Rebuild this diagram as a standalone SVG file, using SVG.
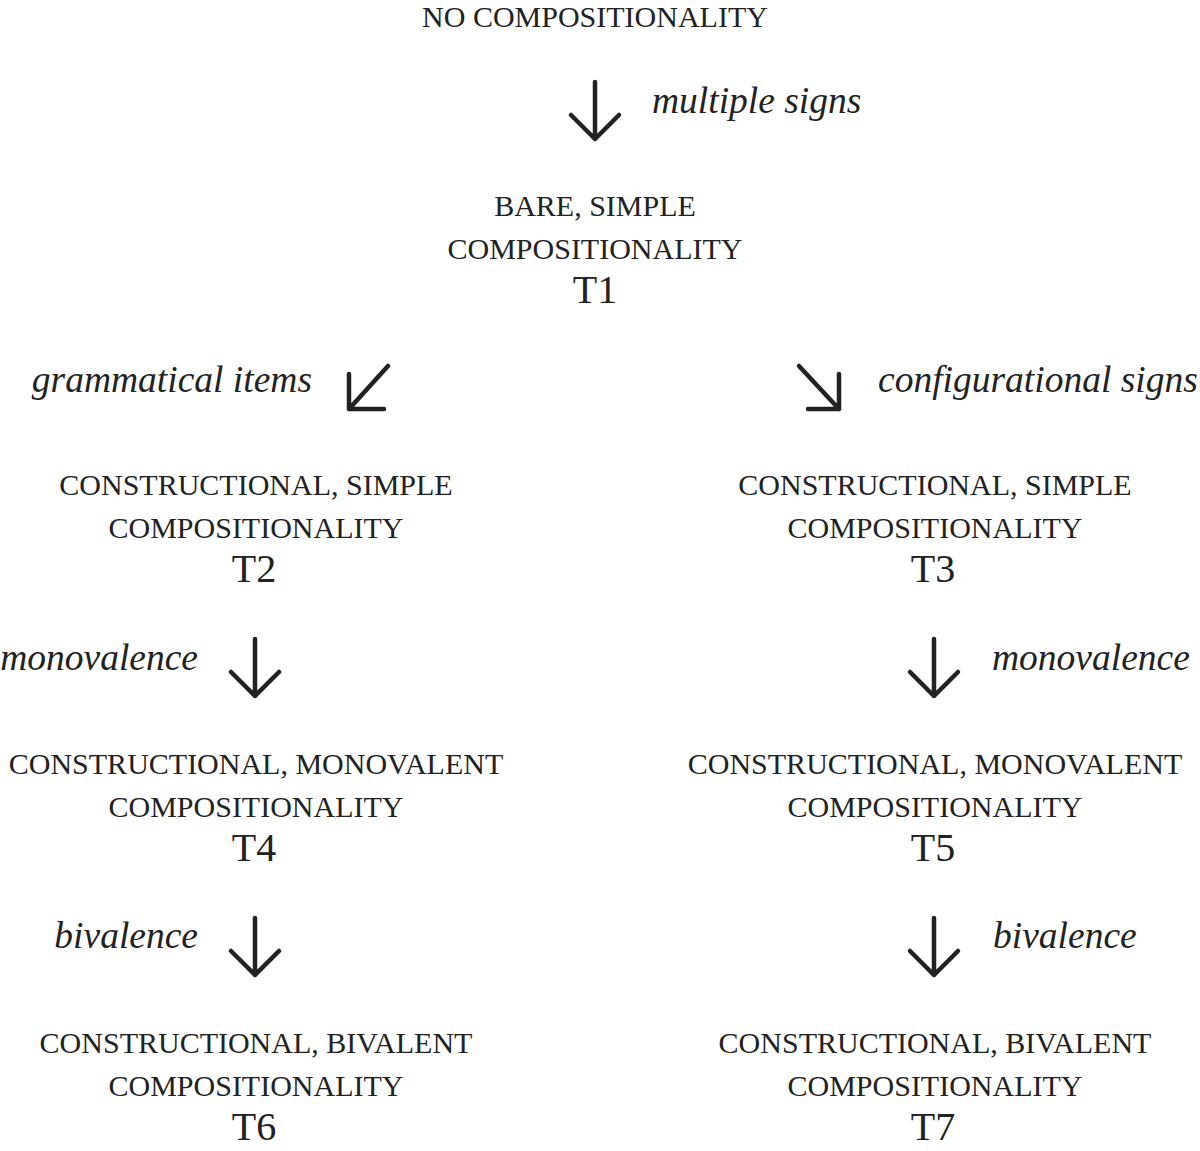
<svg xmlns="http://www.w3.org/2000/svg" width="1200" height="1151" viewBox="0 0 1200 1151">
<style>
.cap{font-family:"Liberation Serif","Times New Roman",serif;font-size:30px;fill:#222;text-anchor:middle}
.t{font-family:"Liberation Serif","Times New Roman",serif;font-size:40px;fill:#222;text-anchor:middle}
.lab{font-family:"Liberation Serif","Times New Roman",serif;font-size:37.5px;font-style:italic;fill:#222}
.arr{fill:none;stroke:#222;stroke-width:4.5;stroke-linecap:round;stroke-linejoin:round}
</style>
<rect width="1200" height="1151" fill="#fff"/>
<g id="n0"><text class="cap" x="595" y="27">NO COMPOSITIONALITY</text></g>
<g id="n1"><text class="cap" x="595" y="216">BARE, SIMPLE</text><text class="cap" x="595" y="259">COMPOSITIONALITY</text><text class="t" x="595" y="303">T1</text></g>
<g id="n2"><text class="cap" x="256" y="495">CONSTRUCTIONAL, SIMPLE</text><text class="cap" x="256" y="538">COMPOSITIONALITY</text><text class="t" x="254" y="582">T2</text></g>
<g id="n3"><text class="cap" x="935" y="495">CONSTRUCTIONAL, SIMPLE</text><text class="cap" x="935" y="538">COMPOSITIONALITY</text><text class="t" x="933" y="582">T3</text></g>
<g id="n4"><text class="cap" x="256" y="774">CONSTRUCTIONAL, MONOVALENT</text><text class="cap" x="256" y="817">COMPOSITIONALITY</text><text class="t" x="254" y="861">T4</text></g>
<g id="n5"><text class="cap" x="935" y="774">CONSTRUCTIONAL, MONOVALENT</text><text class="cap" x="935" y="817">COMPOSITIONALITY</text><text class="t" x="933" y="861">T5</text></g>
<g id="n6"><text class="cap" x="256" y="1053">CONSTRUCTIONAL, BIVALENT</text><text class="cap" x="256" y="1096">COMPOSITIONALITY</text><text class="t" x="254" y="1140">T6</text></g>
<g id="n7"><text class="cap" x="935" y="1053">CONSTRUCTIONAL, BIVALENT</text><text class="cap" x="935" y="1096">COMPOSITIONALITY</text><text class="t" x="933" y="1140">T7</text></g>
<g id="connectors">
<path class="arr" d="M595 82V139M571 115L595 139L619 115"/>
<path class="arr" d="M388 366L349 409M349 374V409H384"/>
<path class="arr" d="M799 366L839 409M839 374V409H808"/>
<path class="arr" d="M255 639V696M231 672L255 696L279 672"/>
<path class="arr" d="M934 639V696M910 672L934 696L958 672"/>
<path class="arr" d="M255 918V975M231 951L255 975L279 951"/>
<path class="arr" d="M934 918V975M910 951L934 975L958 951"/>
<text class="lab" x="652" y="113">multiple signs</text>
<text class="lab" x="312" y="392" text-anchor="end">grammatical items</text>
<text class="lab" x="878" y="392">configurational signs</text>
<text class="lab" x="198" y="670" text-anchor="end">monovalence</text>
<text class="lab" x="992" y="670">monovalence</text>
<text class="lab" x="198" y="948" text-anchor="end">bivalence</text>
<text class="lab" x="993" y="948">bivalence</text>
</g>
</svg>
